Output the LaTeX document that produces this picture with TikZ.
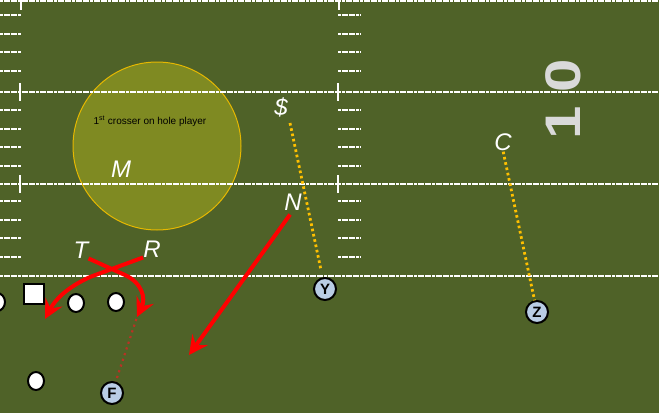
\documentclass[tikz,border=0pt]{standalone}
\usepackage{fontspec}
\setmainfont{Liberation Sans}
\usepackage{tikz}
\usetikzlibrary{arrows.meta, shapes.geometric}
\definecolor{field_green}{HTML}{4F6228}
\definecolor{zone_olive}{HTML}{7F8A22}
\definecolor{zone_gold}{HTML}{E6B800}
\definecolor{drop_gold}{HTML}{FFC000}
\definecolor{back_red}{HTML}{B83224}
\definecolor{elig_blue}{HTML}{B9CDE5}
\definecolor{yd_grey}{HTML}{D9D9D9}

\begin{document}
\begin{tikzpicture}[x=1pt, y=-1pt,
        yardline/.style={white, line width=1.3pt, dash pattern=on 3pt off 0.6pt},
        tick/.style={white, line width=1.5pt},
        defender/.style={text=white, inner sep=0pt, font=\itshape\fontsize{24}{24}\selectfont},
        lineman/.style={ellipse, draw=black, line width=2pt, fill=white, minimum width=16pt, minimum height=18pt, inner sep=0pt},
        snapper/.style={rectangle, draw=black, line width=2pt, fill=white, minimum size=20pt, inner sep=0pt},
        eligible/.style={circle, draw=black, line width=2pt, fill=elig_blue, minimum size=22pt, inner sep=0pt, font=\bfseries\fontsize{15}{15}\selectfont},
        route/.style={red, line width=4pt, -{Stealth[length=19pt, width=19pt, inset=7pt]}},
        drop/.style={drop_gold, line width=2.8pt, dash pattern=on 2.6pt off 2.8pt},
        back/.style={back_red, line width=2.2pt, dash pattern=on 2.2pt off 3.8pt}]

    \fill[field_green] (0, 0) rectangle (659, 413);
    \useasboundingbox (0, 0) rectangle (659, 413);

    % hole zone
    \filldraw[fill=zone_olive, draw=zone_gold, line width=1pt] (157, 146) circle (84);
    \node[font=\fontsize{10}{10}\selectfont, inner sep=0pt] (zone) at (150, 121) {1\textsuperscript{st} crosser on hole player};

    % field markings
    \foreach \y in {1, 92, 184, 276}
        \draw[yardline] (0, \y) -- (659, \y);
    \foreach \y in {15, 34, 52, 71, 110, 129, 147, 166, 201, 220, 238, 257} {
        \draw[yardline] (0, \y) -- (21, \y);
        \draw[yardline] (338, \y) -- (361, \y);
    }
    \draw[tick] (21, 0) -- (21, 10);
    \draw[tick] (339, 0) -- (339, 10);
    \foreach \y in {92, 184} {
        \draw[tick] (20, \y-9) -- (20, \y+9);
        \draw[tick] (338, \y-9) -- (338, \y+9);
    }
    \node[text=yd_grey, rotate=90, inner sep=0pt, font=\bfseries\fontsize{50}{50}\selectfont] (yd10) at (563, 99)
        {\scalebox{1.2}[1]{1}\hspace{14pt}\scalebox{1.2}[1]{0}};

    % offense
    \node[lineman] (g1) at (-3, 302) {};
    \node[snapper] (c1) at (34, 294) {};
    \node[lineman] (g2) at (76, 303) {};
    \node[lineman] (t1) at (116, 302) {};
    \node[lineman] (qb) at (36, 381) {};
    \node[eligible] (F) at (112, 393) {F};
    \node[eligible] (Y) at (325, 289) {Y};
    \node[eligible] (Z) at (537, 312) {Z};

    % defense
    \node[defender] (dS) at (281, 107) {\$};
    \node[defender] (dM) at (121, 169) {M};
    \node[defender] (dN) at (293, 202) {N};
    \node[defender] (dT) at (81, 250) {T};
    \node[defender] (dR) at (152, 249) {R};
    \node[defender] (dC) at (503, 142) {C};

    \coordinate (sTop) at (290, 123);
    \coordinate (nEnd) at (189, 355);
    \coordinate (tEnd) at (137, 317);
    \coordinate (rEnd) at (45, 319);

    \draw[drop, shorten >=7pt] (sTop) -- (Y);
    \draw[drop, shorten <=1pt] (dC.south) -- (Z);
    \draw[back, shorten <=2pt] (tEnd) -- (F);

    \draw[route, shorten <=5pt] (dN.south) -- (nEnd);
    \draw[route] (dR.south west) -- (90, 277) .. controls (66, 288) and (55, 300) .. (rEnd);
    \draw[route] (dT.south east) -- (125, 275) .. controls (142, 283) and (146, 298) .. (tEnd);

\end{tikzpicture}
\end{document}
